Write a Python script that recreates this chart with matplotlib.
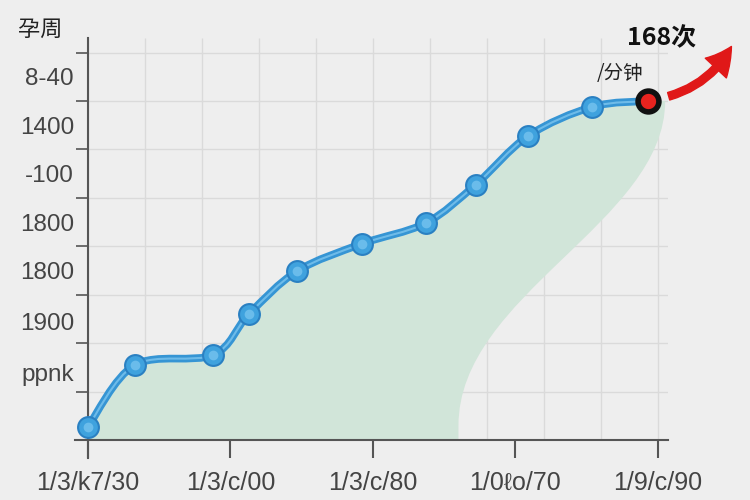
import numpy as np
import matplotlib
matplotlib.use("Agg")
import matplotlib.pyplot as plt
from matplotlib.path import Path
from matplotlib.patches import PathPatch, FancyArrowPatch

plt.rcParams['font.family'] = ['Liberation Sans', 'DejaVu Sans']
CJK = ['Noto Sans CJK SC', 'DejaVu Sans']

# ---- data ----
x_tick_labels = ["1/3/k7/30", "1/3/c/00", "1/3/c/80", "1/0ℓo/70", "1/9/c/90"]
x_tick_pos = [0, 1, 2, 3, 4]
y_tick_labels = ["ppnk", "1900", "1800", "1800", "-100", "1400", "8-40"]
y_label_pos = [1.4, 2.45, 3.5, 4.5, 5.5, 6.5, 7.5]
y_tick_pos = [1, 2, 3, 4, 5, 6, 7, 8]
week_x = [0.0, 0.33, 0.88, 1.13, 1.47, 1.92, 2.37, 2.72, 3.09, 3.54]
rate_y = [0.27, 1.55, 1.76, 2.60, 3.49, 4.05, 4.48, 5.27, 6.28, 6.88]
end_x, end_y = 3.93, 7.0
end_label = "168次"
end_unit = "/分钟"
y_title = "孕周"

BG = '#eeeeee'
GRID = '#dadada'
AXC = '#555555'
TXT = '#444444'

fig = plt.figure(figsize=(7.5, 5), dpi=100, facecolor=BG)
ax = fig.add_axes([0.1, 0.084, 0.7907, 0.84])
ax.set_facecolor(BG)
ax.set_xlim(-0.09, 4.07)
ax.set_ylim(-0.37, 8.3)

# grid
grid_x = np.arange(0, 4.05, 0.4)
ax.vlines(grid_x, 0, 8.3, colors=GRID, lw=1, zorder=0)
ax.hlines(y_tick_pos, 0, 4.07, colors=GRID, lw=1, zorder=0)

# smooth path through the points
px = np.array(week_x + [end_x])
py = np.array(rate_y + [end_y])
pts = np.column_stack([px, py])

def cr_bezier(p):
    verts = [tuple(p[0])]
    codes = [Path.MOVETO]
    n = len(p)
    for i in range(n - 1):
        p0 = p[i - 1] if i > 0 else p[i]
        p1 = p[i]
        p2 = p[i + 1]
        p3 = p[i + 2] if i + 2 < n else p[i + 1]
        c1 = p1 + (p2 - p0) / 6
        c2 = p2 - (p3 - p1) / 6
        verts += [tuple(c1), tuple(c2), tuple(p2)]
        codes += [Path.CURVE4] * 3
    return verts, codes

cv, cc = cr_bezier(pts)

# area fill
fv = [(0, 0)] + cv + [(4.05, end_y), (4.05, 4.5), (2.6, 3.0), (2.6, 0.3), (2.6, 0), (0, 0)]
fc = [Path.MOVETO, Path.LINETO] + cc[1:] + [Path.LINETO, Path.CURVE4, Path.CURVE4, Path.CURVE4,
                                         Path.LINETO, Path.CLOSEPOLY]
ax.add_patch(PathPatch(Path(fv, fc), facecolor='#d1e5d9', edgecolor='none', zorder=1))

# line
ax.add_patch(PathPatch(Path(cv, cc), fill=False, lw=5.5, edgecolor='#3695d4',
                       capstyle='round', joinstyle='round', zorder=3))
ax.add_patch(PathPatch(Path(cv, cc), fill=False, lw=1.5, edgecolor='#86ccf2',
                       alpha=0.7, capstyle='round', zorder=3))

# markers
ax.plot(week_x, rate_y, 'o', ms=15, mfc='#3fa2de', mec='#2a80c2', mew=1.5, zorder=4)
ax.plot(week_x, rate_y, 'o', ms=7, mfc='#8fd3f7', mec='none', alpha=0.55, zorder=5)
ax.plot([end_x], [end_y], 'o', ms=15, mfc='#e8231f', mec='#111111', mew=4, zorder=6)

# spines
for s in ['top', 'right']:
    ax.spines[s].set_visible(False)
ax.spines['left'].set_position(('data', 0))
ax.spines['bottom'].set_position(('data', 0))
for s in ['left', 'bottom']:
    ax.spines[s].set_color(AXC)
    ax.spines[s].set_linewidth(1.5)

ax.set_xticks(x_tick_pos)
ax.set_xticklabels(x_tick_labels)
ax.tick_params(axis='x', direction='out', length=13, width=1.5, color=AXC,
               labelsize=18, labelcolor=TXT, pad=9)
ax.set_yticks(y_tick_pos)
ax.set_yticklabels([])
ax.set_yticks(y_label_pos, minor=True)
ax.set_yticklabels(y_tick_labels, minor=True)
ax.tick_params(axis='y', which='major', direction='out', length=9, width=1.2, color=AXC)
ax.tick_params(axis='y', which='minor', length=0, labelsize=17.5, labelcolor=TXT, pad=10)

# annotations
arrow = FancyArrowPatch((0.888, 0.806), (0.977, 0.912), transform=fig.transFigure,
                        connectionstyle='arc3,rad=0.22',
                        arrowstyle='simple,head_width=1.3,head_length=1.2,tail_width=0.35',
                        mutation_scale=16, color='#e01818', zorder=7)
fig.patches.append(arrow)
fig.text(662 / 750, 1 - 38 / 500, end_label, ha='center', va='center', fontsize=18,
         weight='bold', family=CJK, color='#111111')
fig.text(620 / 750, 1 - 74 / 500, end_unit, ha='center', va='center', fontsize=14,
         family=CJK, color='#222222')
fig.text(40 / 750, 1 - 29 / 500, y_title, ha='center', va='center', fontsize=16,
         family=CJK, color='#222222')

fig.savefig('out.png', dpi=100, facecolor=BG)
